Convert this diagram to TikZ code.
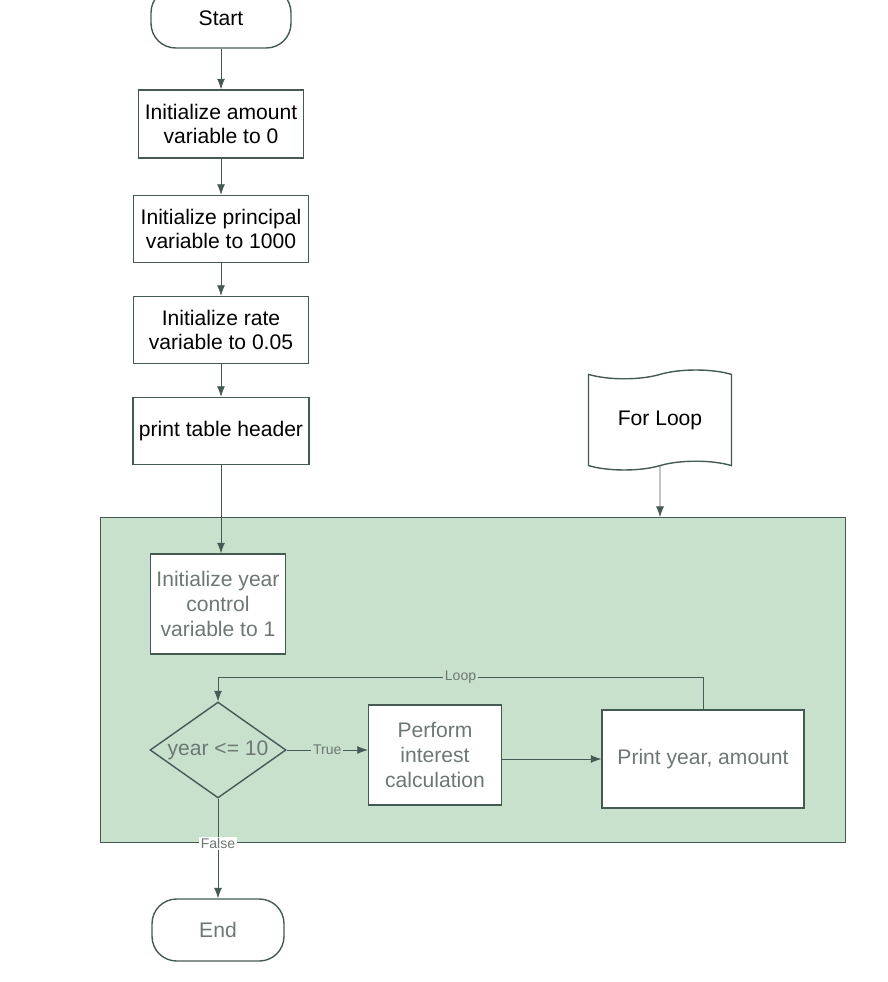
\documentclass[tikz,border=0pt]{standalone}
\usepackage{fontspec}
\setmainfont{Liberation Sans}
\usetikzlibrary{shapes.geometric,shapes.symbols,arrows.meta}
\definecolor{boxline}{RGB}{70,90,85}
\definecolor{loopfill}{RGB}{200,225,205}
\definecolor{softtext}{RGB}{110,120,115}
\tikzset{
  procbox/.style={draw=boxline,thick,fill=white,align=center,font=\large},
  term/.style={procbox,rounded corners=14pt},
  flow/.style={draw=boxline,-{Latex[length=6pt]}},
  tag/.style={font=\footnotesize,fill=loopfill,inner sep=1pt,text=softtext}
}
\begin{document}
\begin{tikzpicture}[x=0.02cm,y=-0.02cm]
\useasboundingbox (0,0) rectangle (887,982);
% loop region
\filldraw[boxline,fill=loopfill] (100,517) rectangle (845,842);
% main column
\node[term,minimum width=2.8cm,minimum height=1.2cm] (start) at (221,18) {Start};
\node[procbox,minimum width=3.3cm,minimum height=1.36cm] (amount) at (221,124) {Initialize amount\\variable to 0};
\node[procbox,minimum width=3.5cm,minimum height=1.34cm] (principal) at (221,229) {Initialize principal\\variable to 1000};
\node[procbox,minimum width=3.5cm,minimum height=1.34cm] (rate) at (221,330) {Initialize rate\\variable to 0.05};
\node[procbox,minimum width=3.5cm,minimum height=1.34cm] (header) at (221,431) {print table header};
\node[tape,draw=boxline,thick,fill=white,minimum width=2.86cm,minimum height=2cm,font=\large] (forloop) at (660,420) {For Loop};
\coordinate (looptop) at (660,517);
\node[procbox,text=softtext,minimum width=2.7cm,minimum height=2cm] (year) at (218,604) {Initialize year\\control\\variable to 1};
\node[diamond,draw=boxline,thick,fill=loopfill,text=softtext,font=\large,minimum width=2.72cm,minimum height=1.92cm,aspect=1.4,inner sep=0pt] (test) at (218,750) {year <= 10};
\node[procbox,text=softtext,minimum width=2.66cm,minimum height=2cm] (calc) at (435,755) {Perform\\interest\\calculation};
\node[procbox,text=softtext,minimum width=4.04cm,minimum height=1.96cm] (print) at (703,759) {Print year, amount};
\node[term,text=softtext,minimum width=2.64cm,minimum height=1.24cm] (finish) at (218,930) {End};
\coordinate (loopback) at (218,677);
% connectors
\draw[flow] (start) -- (amount);
\draw[flow] (amount) -- (principal);
\draw[flow] (principal) -- (rate);
\draw[flow] (rate) -- (header);
\draw[flow] (header.south) -- (header.south |- year.north);
\draw[flow] (forloop) -- (looptop);
\draw[flow] (test) -- node[tag]{True} (test -| calc.west);
\draw[flow] (calc.east |- print) -- (print);
\draw[flow] (print.north) |- node[tag,pos=0.75]{Loop} (loopback) -- (test.north);
\draw[flow] (test) -- node[tag,fill=white,pos=0.45]{False} (finish);
\end{tikzpicture}
\end{document}
